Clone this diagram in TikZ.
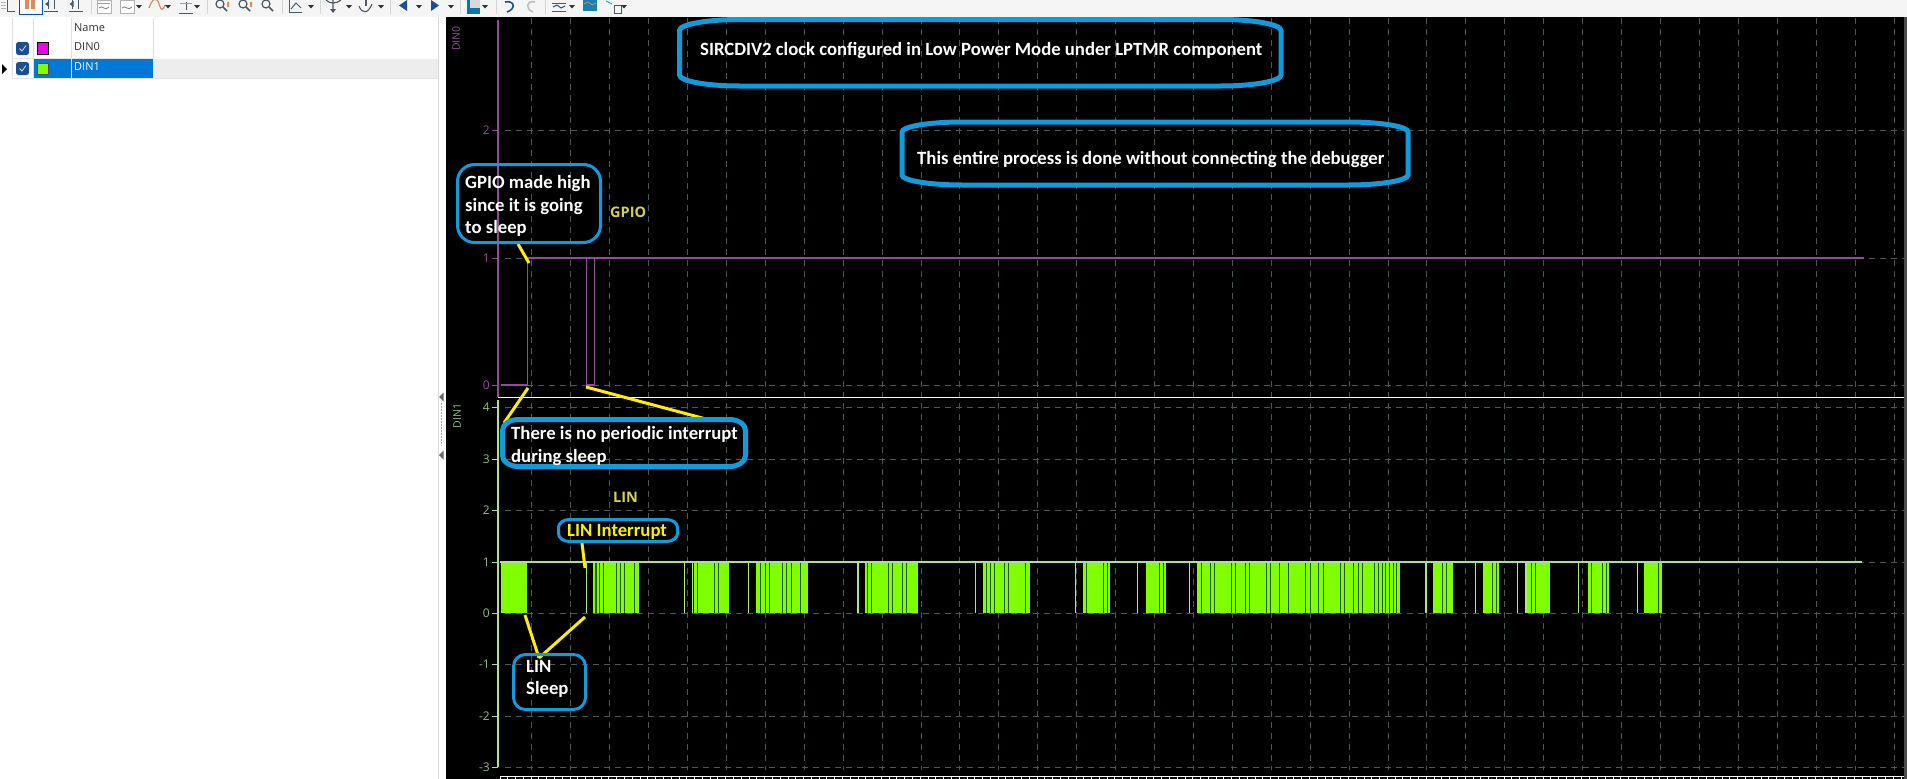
\documentclass[tikz,border=0pt]{standalone}
\usepackage{fontspec}
\setmainfont{Carlito}
\newfontfamily\uifont{Open Sans}
\definecolor{calloutblue}{HTML}{109CDC}
\definecolor{leadyellow}{HTML}{FFEE00}
\definecolor{gpiotrace}{HTML}{98489C}
\definecolor{lintrace}{HTML}{A6E58E}
\definecolor{linbar}{HTML}{80FF00}
\definecolor{linpale}{HTML}{A4EC7C}
\definecolor{lingap}{HTML}{245A12}
\definecolor{gridcol}{HTML}{4A584E}
\definecolor{toolbg}{HTML}{F5F5F5}
\definecolor{sepcol}{HTML}{D4D4D4}
\definecolor{iconcol}{HTML}{4A5A68}
\definecolor{iconorange}{HTML}{E08A5A}
\definecolor{iconblue}{HTML}{1F4E8C}
\definecolor{selblue}{HTML}{0078D7}
\definecolor{labelyellow}{HTML}{D8D048}
\definecolor{swatchmag}{HTML}{EE00EE}
\newcommand{\calloutbox}[7]{% x0 y0 x1 y1 rx ry width
  \draw[line width=#7,calloutblue]
    ({#1+#5},#2) -- ({#3-#5},#2)
    .. controls ({#3-0.45*#5},#2) and (#3,{#2+0.45*#6}) .. (#3,{#2+#6})
    -- (#3,{#4-#6})
    .. controls (#3,{#4-0.45*#6}) and ({#3-0.45*#5},#4) .. ({#3-#5},#4)
    -- ({#1+#5},#4)
    .. controls ({#1+0.45*#5},#4) and (#1,{#4-0.45*#6}) .. (#1,{#4-#6})
    -- (#1,{#2+#6})
    .. controls (#1,{#2+0.45*#6}) and ({#1+0.45*#5},#2) .. ({#1+#5},#2) -- cycle;}
\newcommand{\dropmark}[1]{\fill[black!80] ({#1-3},5) -- ({#1+3},5) -- (#1,8.5) -- cycle;}
\newcommand{\barsat}[2]{\foreach \a/\b in {#2}{\fill[linbar] ({#1+\a/3},562) rectangle ({#1+\b/3},613);}}
\newcommand{\thinsat}[2]{\foreach \a/\b in {#2}{\fill[linpale] ({#1+\a/3},562) rectangle ({#1+\b/3},613);}}
\newcommand{\groupsat}[2]{\foreach \a/\b in {#2}{\fill[lingap] ({#1+\a/3},562) rectangle ({#1+\b/3},613);}}
\tikzset{
  calltext/.style={text=white,font=\fontsize{18.7}{22.6}\selectfont\bfseries,align=left,inner sep=0pt,anchor=west},
  leadline/.style={line width=3,leadyellow},
  tracelabel/.style={text=labelyellow,font=\uifont\fontsize{14.5}{18}\selectfont\bfseries,inner sep=0pt},
  gridline/.style={gridcol,line width=0.8,dash pattern=on 6 off 5},
  tickA/.style={text=gpiotrace,font=\uifont\fontsize{12}{14}\selectfont,inner sep=0pt,anchor=east},
  tickB/.style={text=lintrace!85!black,font=\uifont\fontsize{12}{14}\selectfont,inner sep=0pt,anchor=east},
  uitext/.style={font=\uifont\fontsize{11}{13}\selectfont,inner sep=0pt,anchor=west},
}
\begin{document}
\begin{tikzpicture}[x=1pt,y=-1pt]
\useasboundingbox (0,0) rectangle (1907,779);
% backgrounds
\fill[white] (0,0) rectangle (1907,779);
\fill[toolbg] (0,0) rectangle (1907,17);
\fill[black] (446,17) rectangle (1904,779);
\fill[black!70] (1904,17) rectangle (1907,779);
% table
\fill[black!7] (153,59) rectangle (438,78);
\fill[selblue] (33,59) rectangle (153,78);
\draw[black!12,line width=0.8] (12,18) -- (12,78) (33,18) -- (33,78) (71,18) -- (71,59) (153,18) -- (153,59);
\draw[black!10,line width=0.8] (12,58.5) -- (153,58.5) (12,78.5) -- (438,78.5);
\draw[white!80!cyan,line width=0.8] (71,59) -- (71,78);
\draw[black!15,line width=1] (438.5,17) -- (438.5,779);
\fill[black] (2,64) -- (7,69) -- (2,74) -- cycle;
\fill[iconblue,rounded corners=2.5] (16,42) rectangle (29,55);
\fill[iconblue,rounded corners=2.5] (16,62) rectangle (29,75);
\draw[white!70!cyan,line width=0.8] (19.5,48.5) -- (22,51) -- (26,45.5);
\draw[white!70!cyan,line width=0.8] (19.5,68.5) -- (22,71) -- (26,65.5);
\fill[swatchmag,draw=black,line width=0.8] (37.5,42.5) rectangle (48.5,54);
\fill[linbar,draw=black!70,line width=0.8] (37.5,63) rectangle (48.5,74);
\node[uitext,text=black!80] (hname) at (74,28) {Name};
\node[uitext,text=black!80] (hdin0) at (74,47) {DIN0};
\node[uitext,text=white] (hdin1) at (74,67) {DIN1};
% toolbar icons
\draw[iconcol,line width=1] (7,0) -- (7,11) -- (15,11);
\draw[black!30,line width=0.7] (1,2) -- (6,2) (1,5) -- (6,5) (1,8) -- (6,8);
\draw[fill=white,draw=black!0] (19,0) rectangle (42,14);
\draw[teal!70!blue,line width=0.9] (19,-1) rectangle (42,14);
\fill[iconorange] (25,0) rectangle (29,9) (31,0) rectangle (35,9);
\foreach \c in {51,75.5}{
  \draw[iconcol,line width=1] ({\c-3},0) -- ({\c-3},9) ({\c+3},0) -- ({\c+3},9) ({\c-7},11) -- ({\c+7},11);
  \fill[iconcol] ({\c-6},4) -- ({\c-2},1) -- ({\c-2},7) -- cycle;
}
\foreach \c in {91,207,282,320,390,460,496,545}{\draw[sepcol,line width=1] (\c,0) -- (\c,14);}
\foreach \c in {104,127}{
  \draw[black!30,fill=white,line width=0.7] ({\c-7},0) rectangle ({\c+7},13);
  \draw[black!50,line width=0.8] ({\c-5},8) .. controls ({\c-2},4) and ({\c+1},12) .. ({\c+5},7);
}
\draw[iconorange,line width=0.9] (98,3) -- (110,3);
\draw[iconorange,line width=1.2] (149,8) .. controls (153,-3) and (157,-3) .. (159,4) .. controls (161,11) and (163,11) .. (165,5);
\draw[iconcol,line width=0.8] (179,13) -- (193,13) (186,2) -- (186,10);
\draw[iconorange,line width=0.8] (180,3) -- (192,3);
\foreach \c in {221,244,267}{
  \draw[iconcol,line width=1.2] ({\c-1},4) circle[radius=4];
  \draw[iconcol,line width=1.6] ({\c+2},7) -- ({\c+6},11);
}
\fill[iconorange] (227,2) rectangle (229,7) (250,2) rectangle (252,7);
\draw[iconcol,line width=1] (289,0) -- (289,12) -- (302,12);
\draw[iconcol,line width=1] (291,9) -- (296,3) -- (301,8);
\draw[iconcol,line width=1.1] (333,0) -- (333,11) (326,0) .. controls (330,4) and (336,4) .. (341,0);
\fill[iconcol] (330,9) -- (336,9) -- (333,13) -- cycle;
\draw[iconcol,line width=1.1] (359,6) .. controls (362,14) and (368,14) .. (372,4);
\draw[iconcol,line width=1.1] (366,0) -- (366,6);
\fill[iconblue] (407,0) -- (407,11) -- (399,5.5) -- cycle;
\fill[iconblue] (431,0) -- (431,11) -- (439,5.5) -- cycle;
\fill[black!15] (467,0) rectangle (480,8);
\fill[calloutblue!75!black] (467,0) rectangle (470,14);
\fill[calloutblue!75!black] (467,8) rectangle (480,14);
\draw[iconblue,line width=1.6] (505,2) .. controls (515,0) and (516,9) .. (507,12);
\draw[black!25,line width=1.6] (535,2) .. controls (526,0) and (525,9) .. (533,12);
\draw[iconcol,line width=0.9] (552,11) -- (566,11) (552,3) -- (566,3);
\draw[iconblue,line width=0.9] (553,7) -- (557,5) -- (561,8) -- (565,6);
\fill[iconblue!70!cyan] (583,0) rectangle (597,11);
\draw[iconorange,line width=0.7] (584,4) -- (588,2) -- (592,5) -- (596,3);
\draw[calloutblue,line width=0.8] (606,1) -- (612,4);
\draw[iconcol,line width=0.8] (614,5) rectangle (621,13);
\foreach \c in {139,168,197,311,349,381,419,451,485,572,624}{\dropmark{\c}}
% splitter marks
\fill[black!60] (443.5,392.5) -- (443.5,401.5) -- (439,397) -- cycle;
\fill[black!60] (443.5,450.5) -- (443.5,459.5) -- (439,455) -- cycle;
\draw[black!30,line width=1,dash pattern=on 1.5 off 1.5] (441,403) -- (441,446);
% grid
\foreach \k in {0,...,35}{\draw[gridline] ({531.7+38.92*\k},18) -- ({531.7+38.92*\k},770);}
\foreach \y in {130,258,385,407,459,510,562,613,664,716,767}{\draw[gridline] (505,\y) -- (1904,\y);}
% axes
\draw[gpiotrace,line width=1.3] (498,20) -- (498,397);
\draw[lintrace,line width=1.3] (498,400) -- (498,767);
\foreach \y in {130,258,385}{\draw[gpiotrace,line width=1] (492,\y) -- (498,\y);}
\foreach \y in {407,459,510,562,613,664,716,767}{\draw[lintrace,line width=1] (492,\y) -- (498,\y);}
\node[tickA] (ya2) at (490,130) {2};
\node[tickA] (ya1) at (490,258) {1};
\node[tickA] (ya0) at (490,385) {0};
\node[tickB] (yb4) at (490,407) {4};
\node[tickB] (yb3) at (490,459) {3};
\node[tickB] (yb2) at (490,510) {2};
\node[tickB] (yb1) at (490,562) {1};
\node[tickB] (yb0) at (490,613) {0};
\node[tickB] (ybm1) at (490,664) {-1};
\node[tickB] (ybm2) at (490,716) {-2};
\node[tickB] (ybm3) at (490,767) {-3};
\node[text=gpiotrace,font=\uifont\fontsize{10.5}{12}\selectfont,rotate=90,inner sep=0pt] (din0) at (456,38.5) {DIN0};
\node[text=lintrace!85!black,font=\uifont\fontsize{10.5}{12}\selectfont,rotate=90,inner sep=0pt] (din1) at (457,416) {DIN1};
% separator and ruler
\draw[white,line width=1] (498,397) -- (1904,397);
\draw[white,line width=1] (500,776) -- (1904,776);
\foreach \k in {0,...,180}{\draw[white,line width=1] ({500+7.784*\k},776) -- ({500+7.784*\k},779);}
% GPIO trace
\draw[gpiotrace,line width=1.4] (500.7,385) -- (527.3,385) -- (527.3,258) -- (1864,258);
\draw[gpiotrace,line width=1.4] (586.3,258) -- (586.3,385) -- (594.3,385) -- (594.3,258);
% LIN bars
\fill[linbar] (501.3,562) rectangle (526.7,613);
\groupsat{560}{99/237,402/507,589/744,915/1074}
\groupsat{920}{189/330,488/569,678/738}
\groupsat{1170}{80/690}
\groupsat{1420}{40/99,189/238,316/390,503/568,672/727}
\thinsat{560}{79/82,373/376,397/400,565/568,892/898}
\barsat{560}{99/106,110/118,121/129,132/168,171/181,184/193,196/222,225/237,402/411,414/463,466/474,477/507,589/600,604/615,618/628,631/666,669/679,682/692,695/720,723/744,915/922,925/933,936/983,986/997,1000/1025,1028/1038,1041/1074}
\thinsat{920}{165/168,466/469,652/655}
\barsat{920}{189/197,200/210,213/222,224/252,255/264,267/316,318/330,488/498,501/550,553/562,565/569,678/717,720/730,733/738}
\thinsat{1170}{57/60}
\barsat{1170}{80/93,95/120,122/133,135/182,185/196,198/224,227/237,239/289,291/301,304/328,331/341,343/355,357/392,394/405,407/420,422/445,448/460,462/510,513/523,525/550,552/563,566/577,579/613,616/624,627/635,638/646,649/657,660/668,671/679,682/690}
\thinsat{1420}{14/20,166/169,292/295,475/478,650/653,316/320}
\barsat{1420}{40/65,68/78,81/99,189/216,219/229,232/238,322/333,336/346,349/390,503/512,515/545,548/557,560/568,672/715,718/727}
% LIN high line
\draw[lintrace,line width=1.3] (500,562) -- (1862,562);
% lead coordinates
\coordinate (gpioTail) at (518,244);
\coordinate (gpioRise) at (529,263);
\coordinate (periodicL) at (504,423);
\coordinate (periodicR) at (706,419);
\coordinate (gpioLowA) at (528,388);
\coordinate (gpioLowB) at (586,387);
\coordinate (intTail) at (582,543);
\coordinate (intEdge) at (585,568);
\coordinate (sleepTop) at (539,658);
\coordinate (sleepA) at (525,615);
\coordinate (sleepB) at (585,617);
\draw[leadline] (gpioTail) -- (gpioRise);
\draw[leadline] (gpioLowA) -- (periodicL);
\draw[leadline] (gpioLowB) -- (periodicR);
\draw[leadline] (intTail) -- (intEdge);
\draw[leadline] (sleepA) -- (sleepTop);
\draw[leadline] (sleepB) -- (sleepTop);
% callouts
\calloutbox{679.5}{19.5}{1281}{86}{60}{11}{5}
\calloutbox{902}{122}{1408}{185}{60}{10}{5}
\calloutbox{457.5}{164.5}{600.5}{242.5}{17}{17}{3}
\calloutbox{502.5}{419.5}{745.5}{466.5}{16}{11}{5}
\calloutbox{558.5}{519.5}{677.5}{541.5}{11}{8}{3}
\calloutbox{513.5}{654.5}{585.5}{709.5}{12}{12}{3}
\node[calltext] (tclock) at (700,51) {SIRCDIV2 clock configured in Low Power Mode under LPTMR component};
\node[calltext] (tproc) at (917,160) {This entire process is done without connecting the debugger};
\node[calltext] (tgpio) at (465,206) {GPIO made high\\since it is going\\to sleep};
\node[calltext] (tperiod) at (511,446) {There is no periodic interrupt\\during sleep};
\node[calltext,text=leadyellow] (tint) at (567,532) {LIN Interrupt};
\node[calltext] (tsleep) at (526,679) {LIN\\Sleep};
\node[tracelabel,anchor=west] (lgpio) at (610,212) {GPIO};
\node[tracelabel,anchor=west] (llin) at (613,497) {LIN};
\end{tikzpicture}
\end{document}
